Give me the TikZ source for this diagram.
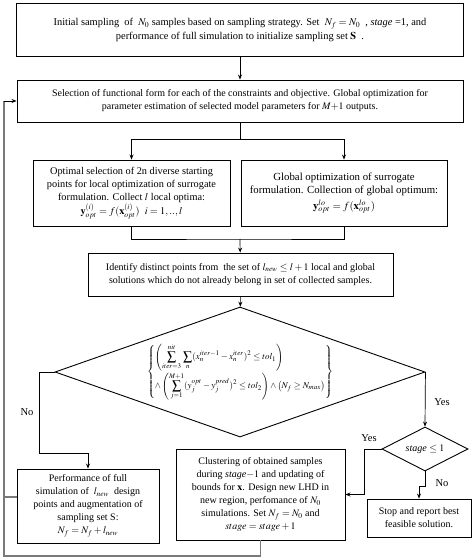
\documentclass[tikz,border=0pt]{standalone}
\usepackage{mathptmx}
\usepackage{fontspec}
\setmainfont{Liberation Serif}
\usetikzlibrary{shapes.geometric,arrows.meta}

\begin{document}
\begin{tikzpicture}[x=1pt,y=-1pt,
    box/.style={draw,line width=0.9pt,align=center,inner sep=2pt,font=\fontsize{10}{13}\selectfont},
    decision/.style={draw,line width=0.9pt,shape=diamond,inner sep=0pt,align=center,font=\fontsize{10}{13}\selectfont},
    arrow/.style={line width=0.7pt,-{Stealth[length=5pt,width=4pt]}},
    link/.style={line width=0.7pt},
    lbl/.style={font=\fontsize{10.5}{12}\selectfont}]
    \definecolor{LoopGray}{HTML}{7a7a7a}
    \tikzset{loop/.style={draw=LoopGray,line width=1.2pt}}
    \useasboundingbox (0,0) rectangle (474,559);

    % boxes
    \node[box,font=\fontsize{10.4}{14}\selectfont,minimum width=447pt,minimum height=53pt] (init) at (240,30)
        {Initial sampling \ of \ $N_0$ samples based on sampling strategy. Set \ $N_f = N_0$ \ , \textit{stage} =1, and\\
         performance of full simulation to initialize sampling set $\mathbf{S}$ \ .};
    \node[box,minimum width=446pt,minimum height=42pt] (select) at (240,101)
        {Selection of functional form for each of the constraints and objective. Global optimization for\\
         parameter estimation of selected model parameters for $M{+}1$ outputs.};
    \node[box,font=\fontsize{10.3}{13}\selectfont,minimum width=197pt,minimum height=66pt] (local) at (131.5,193)
        {Optimal selection of 2n diverse starting\\
         points for local optimization of surrogate\\
         formulation. Collect $l$ local optima:\\
         $\mathbf{y}^{(i)}_{opt} = f(\mathbf{x}^{(i)}_{opt})\ \ i=1,..,l$};
    \node[box,font=\fontsize{10.8}{13}\selectfont,minimum width=206pt,minimum height=66pt] (global) at (344,193)
        {Global optimization of surrogate\\
         formulation. Collection of global optimum:\\[3pt]
         $\mathbf{y}^{lo}_{opt} = f(\mathbf{x}^{lo}_{opt})$};
    \node[box,minimum width=305pt,minimum height=43pt] (distinct) at (240.5,274.5)
        {Identify distinct points from \ the set of $l_{new} \le l+1$ local and global\\
         solutions which do not already belong in set of collected samples.};
    \node[decision,minimum width=370pt,minimum height=130pt,aspect=2.85] (check) at (240,372)
        {\fontsize{9}{11}\selectfont
         $\left\{\begin{array}{@{}l@{}}
         \displaystyle\left(\sum_{iter=3}^{nit}\,\sum_{n}(x_n^{iter-1}-x_n^{iter})^2\le tol_1\right)\\[10pt]
         \displaystyle\wedge\left(\sum_{j=1}^{M+1}(y_j^{opt}-y_j^{pred})^2\le tol_2\right)\wedge\left(N_f\ge N_{max}\right)
         \end{array}\right\}$};
    \node[decision,minimum width=86pt,minimum height=44pt,aspect=2] (stagecheck) at (425,449)
        {\textit{stage} $\le 1$};
    \node[box,minimum width=142pt,minimum height=74pt] (sim) at (88,506)
        {Performance of full\\
         simulation of \ $l_{new}$ \ design\\
         points and augmentation of\\
         sampling set S:\\
         $N_f = N_f + l_{new}$};
    \node[box,minimum width=169pt,minimum height=91pt] (cluster) at (260.5,494.5)
        {Clustering of obtained samples\\
         during \textit{stage}$-1$ and updating of\\
         bounds for $\mathbf{x}$. Design new LHD in\\
         new region, perfomance of $N_0$\\
         simulations. Set $N_f = N_0$ and\\
         $stage = stage + 1$};
    \node[box,minimum width=104pt,minimum height=38pt] (stop) at (419,518)
        {Stop and report best\\ feasible solution.};

    % bends
    \coordinate (split) at (240,139);
    \coordinate (merge) at (240,239);
    \coordinate (noturn) at (39,453);
    \coordinate (yesturn) at (364,449);
    \coordinate (nojog) at (425,486);
    \coordinate (loopbot) at (260.5,556);
    \coordinate (loopcorner) at (4,556);
    \coordinate (looptop) at (4,101);
    \coordinate (simjoin) at (4,497);

    % connectors
    \draw[arrow] (init) -- (select);
    \draw[link] (select) -- (split);
    \draw[arrow] (split) -| (local);
    \draw[arrow] (split) -| (global);
    \draw[link] (local) |- (merge) -| (global);
    \draw[arrow] (merge) -- (distinct);
    \draw[arrow] (distinct) -- (check);
    \draw[arrow] (check.west) -| (noturn) -| (sim.north);
    \draw[arrow] (check.east) -- (stagecheck.north);
    \draw[arrow] (stagecheck.west) -- (yesturn) |- (cluster.east);
    \draw[arrow] (stagecheck.south) -- (nojog) -| (stop.north);
    \draw[loop] (cluster.south) -- (loopbot) -- (loopcorner) -- (looptop);
    \draw[loop] ([yshift=9pt]sim.west) -- (simjoin);
    \draw[arrow] (looptop) -- (select.west);

    % labels
    \node[lbl] (noA) at (27,412) {No};
    \node[lbl] (yesA) at (442,402) {Yes};
    \node[lbl] (yesB) at (369,438) {Yes};
    \node[lbl] (noB) at (442,483) {No};
\end{tikzpicture}
\end{document}
